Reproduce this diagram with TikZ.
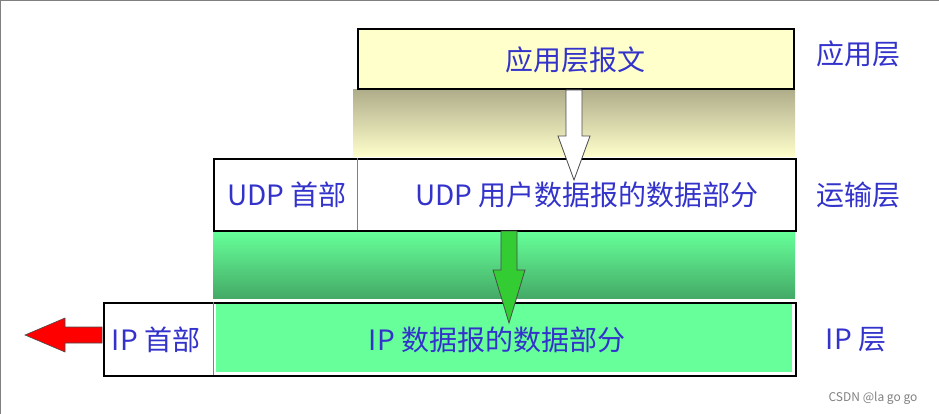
\documentclass[tikz,border=0pt]{standalone}
\usepackage{fontspec}
\setmainfont{Liberation Sans}
\newfontfamily\cjk{Noto Sans CJK SC}
\begin{document}
\begin{tikzpicture}[x=1pt,y=-1pt,
  lbl/.style={text=txtblue,font=\cjk\fontsize{28}{30}\selectfont,inner sep=0},
  box/.style={draw=black,line width=2.2pt}]
\definecolor{txtblue}{HTML}{3333CC}
\definecolor{lgreen}{HTML}{66FF99}
\definecolor{dgreen}{HTML}{44AA66}
\definecolor{lyel}{HTML}{FFFFCC}
\definecolor{khaki}{HTML}{B0AE8A}
\definecolor{agreen}{HTML}{33CC33}
\useasboundingbox (0,0) rectangle (939,414);
\draw[gray,line width=1pt] (0.5,414) -- (0.5,0.5) -- (939,0.5);
% gradients
\shade[top color=khaki,bottom color=lyel] (353,90) rectangle (795,157);
\shade[top color=lgreen,bottom color=dgreen] (213,232) rectangle (795,298);
% app box
\node[box,fill=lyel,minimum width=436,minimum height=60,anchor=north west,inner sep=0] (app) at (357,28) {};
\node[lbl] (apptxt) at (575,60) {应用层报文};
% UDP box
\node[box,fill=white,minimum width=582,minimum height=72,anchor=north west,inner sep=0] (udp) at (213,158) {};
\coordinate (d1) at (357,158);
\draw[gray,line width=0.8pt] (d1) -- ++(0,72);
\node[lbl] (udph) at (287,195) {UDP 首部};
\node[lbl] (udpd) at (587,195) {UDP 用户数据报的数据部分};
% IP box
\node[box,fill=white,minimum width=692,minimum height=73,anchor=north west,inner sep=0] (ip) at (103,302) {};
\fill[lgreen] (216,304) rectangle (792,372);
\draw[gray,line width=0.8pt] (213,302) -- (213,375);
\node[lbl] (iph) at (156,340) {IP 首部};
\node[lbl] (ipd) at (497,340) {IP 数据报的数据部分};
% arrows
\draw[fill=white,draw=black!70,line width=0.8pt] (566,90) -- (582,90) -- (582,136) -- (590,136) -- (574,180) -- (558,136) -- (566,136) -- cycle;
\draw[fill=agreen,draw=black!70,line width=0.8pt] (501,231) -- (517,231) -- (517,270) -- (525,270) -- (509,323) -- (493,270) -- (501,270) -- cycle;
\draw[fill=red,draw=black!70,line width=0.6pt] (102,327) -- (65,327) -- (65,318) -- (25,335) -- (65,352) -- (65,343) -- (102,343) -- cycle;
% layer labels
\node[lbl] (l1) at (858,54) {应用层};
\node[lbl] (l2) at (858,195) {运输层};
\node[lbl] (l3) at (856,340) {IP 层};
\node[text=gray,font=\cjk\fontsize{12}{14}\selectfont,inner sep=0] (wm) at (873,398) {CSDN @la go go};
\end{tikzpicture}
\end{document}
